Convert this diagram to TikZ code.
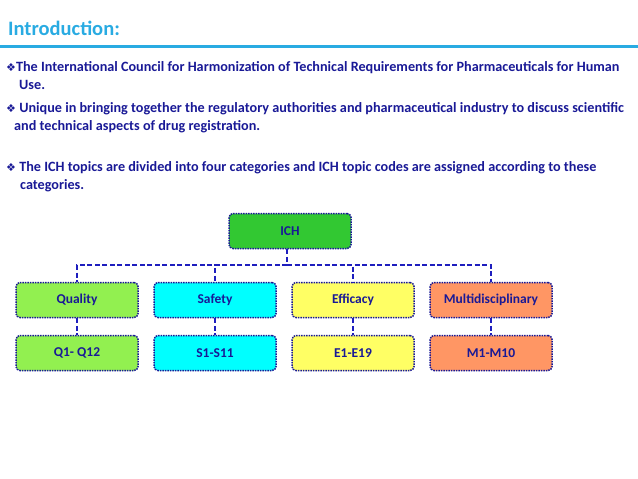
\documentclass[tikz,border=0pt]{standalone}
\usepackage{fontspec}
\setmainfont{Carlito}
\newfontfamily\symfont{DejaVu Sans}
\newcommand{\bsym}{{\symfont\fontsize{11}{11}\selectfont ❖}}
\definecolor{tblue}{RGB}{25,25,150}
\definecolor{cblue}{RGB}{30,30,190}
\definecolor{hblue}{RGB}{41,171,226}
\definecolor{cich}{RGB}{50,200,50}
\definecolor{cq}{RGB}{146,240,80}
\definecolor{cs}{RGB}{0,255,255}
\definecolor{ce}{RGB}{255,255,100}
\definecolor{cm}{RGB}{255,150,100}
\begin{document}
\begin{tikzpicture}[x=1pt,y=-1pt,
 box/.style={draw=tblue,densely dotted,line width=1.5pt,rounded corners=4pt,minimum width=122pt,minimum height=35pt,font=\bfseries\fontsize{13.5}{16}\selectfont,text=tblue},
 conn/.style={draw=cblue,dash pattern=on 5pt off 2.5pt,line width=1.4pt},
 bul/.style={anchor=north west,text=tblue,font=\bfseries\fontsize{14.2}{18}\selectfont,align=left,inner sep=0pt}]
\useasboundingbox (0,0) rectangle (638,479);
\node[anchor=west,text=hblue,font=\bfseries\fontsize{20.5}{24}\selectfont,inner sep=0] (title) at (8,28) {Introduction:};
\draw[hblue,line width=3pt] (0,46) -- (638,46);
\node[bul] (b1) at (6,61) {\bsym The International Council for Harmonization of Technical Requirements for Pharmaceuticals for Human\\\hspace*{13pt}Use.};
\node[bul] (b2) at (6,102) {\bsym\ Unique in bringing together the regulatory authorities and pharmaceutical industry to discuss scientific\\\hspace*{8pt}and technical aspects of drug registration.};
\node[bul] (b3) at (6,161) {\bsym\ The ICH topics are divided into four categories and ICH topic codes are assigned according to these\\\hspace*{14pt}categories.};
\node[box,fill=cich] (ich) at (290,231) {ICH};
\node[box,fill=cq] (q) at (77,300) {Quality};
\node[box,fill=cs] (s) at (215,300) {Safety};
\node[box,fill=ce] (e) at (353,300) {Efficacy};
\node[box,fill=cm] (m) at (491,300) {Multidisciplinary};
\node[box,fill=cq] (q2) at (77,353) {Q1- Q12};
\node[box,fill=cs] (s2) at (215,353) {S1-S11};
\node[box,fill=ce] (e2) at (353,353) {E1-E19};
\node[box,fill=cm] (m2) at (491,353) {M1-M10};
\coordinate (bus) at (287,265);
\draw[conn] (ich.south -| bus) -- (bus);
\foreach \n in {q,s,e,m}{
 \draw[conn] (bus) -| (\n.north);
 \draw[conn] (\n.south) -- (\n2.north);}
\end{tikzpicture}
\end{document}
